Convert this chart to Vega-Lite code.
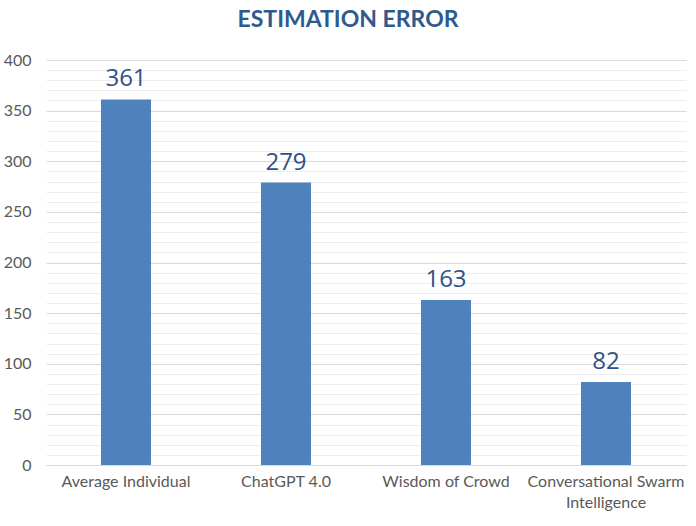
{
  "$schema": "https://vega.github.io/schema/vega-lite/v6.json",
  "autosize": {"type": "none"},
  "width": 640,
  "height": 405,
  "padding": {"left": 46, "top": 60, "right": 10, "bottom": 61},
  "background": "white",
  "title": {
    "text": "ESTIMATION ERROR",
    "font": "Lato",
    "fontSize": 23,
    "fontWeight": "bold",
    "color": "#2E5A8E",
    "anchor": "middle",
    "offset": 20,
    "dx": -18
  },
  "data": {
    "values": [
      {"category": "Average Individual", "error": 361},
      {"category": "ChatGPT 4.0", "error": 279},
      {"category": "Wisdom of Crowd", "error": 163},
      {"category": "Conversational Swarm Intelligence", "error": 82}
    ]
  },
  "encoding": {
    "x": {
      "field": "category",
      "type": "nominal",
      "sort": null,
      "scale": {"paddingInner": 0.6875, "paddingOuter": 0.34375},
      "axis": {
        "title": null,
        "labelAngle": 0,
        "labelFont": "Lato",
        "labelFontSize": 16,
        "labelColor": "#595959",
        "labelPadding": 8,
        "labelLimit": 300,
        "labelExpr": "datum.label == 'Conversational Swarm Intelligence' ? ['Conversational Swarm', 'Intelligence'] : datum.label",
        "labelLineHeight": 21,
        "ticks": false,
        "domainColor": "#D9D9D9",
        "domainWidth": 1,
        "grid": false
      }
    },
    "y": {
      "field": "error",
      "type": "quantitative",
      "scale": {"domain": [0, 400], "nice": false}
    }
  },
  "layer": [
    {
      "mark": {"type": "bar", "color": "#4F81BD"},
      "encoding": {
        "y": {
          "field": "error",
          "type": "quantitative",
          "scale": {"domain": [0, 400], "nice": false},
          "axis": {
            "title": null,
            "values": [0, 50, 100, 150, 200, 250, 300, 350, 400],
            "labelFont": "Lato",
            "labelFontSize": 16,
            "labelColor": "#595959",
            "labelPadding": 15,
            "ticks": false,
            "domain": false,
            "grid": true,
            "gridColor": "#D9D9D9",
            "gridWidth": 1,
            "zindex": 0
          }
        }
      }
    },
    {
      "mark": {
        "type": "text",
        "baseline": "bottom",
        "dy": -8,
        "font": "Open Sans",
        "fontSize": 24,
        "fontWeight": "normal",
        "color": "#2F5286"
      },
      "encoding": {
        "text": {"field": "error", "type": "quantitative"},
        "y": {
          "field": "error",
          "type": "quantitative",
          "scale": {"domain": [0, 400], "nice": false},
          "axis": {
            "title": null,
            "orient": "right",
            "values": [10, 20, 30, 40, 60, 70, 80, 90, 110, 120, 130, 140, 160, 170, 180, 190, 210, 220, 230, 240, 260, 270, 280, 290, 310, 320, 330, 340, 360, 370, 380, 390],
            "labels": false,
            "ticks": false,
            "domain": false,
            "grid": true,
            "gridColor": "#EEEEEE",
            "gridWidth": 1,
            "zindex": 0
          }
        }
      }
    }
  ],
  "resolve": {"axis": {"y": "independent"}},
  "config": {"view": {"stroke": null}}
}
